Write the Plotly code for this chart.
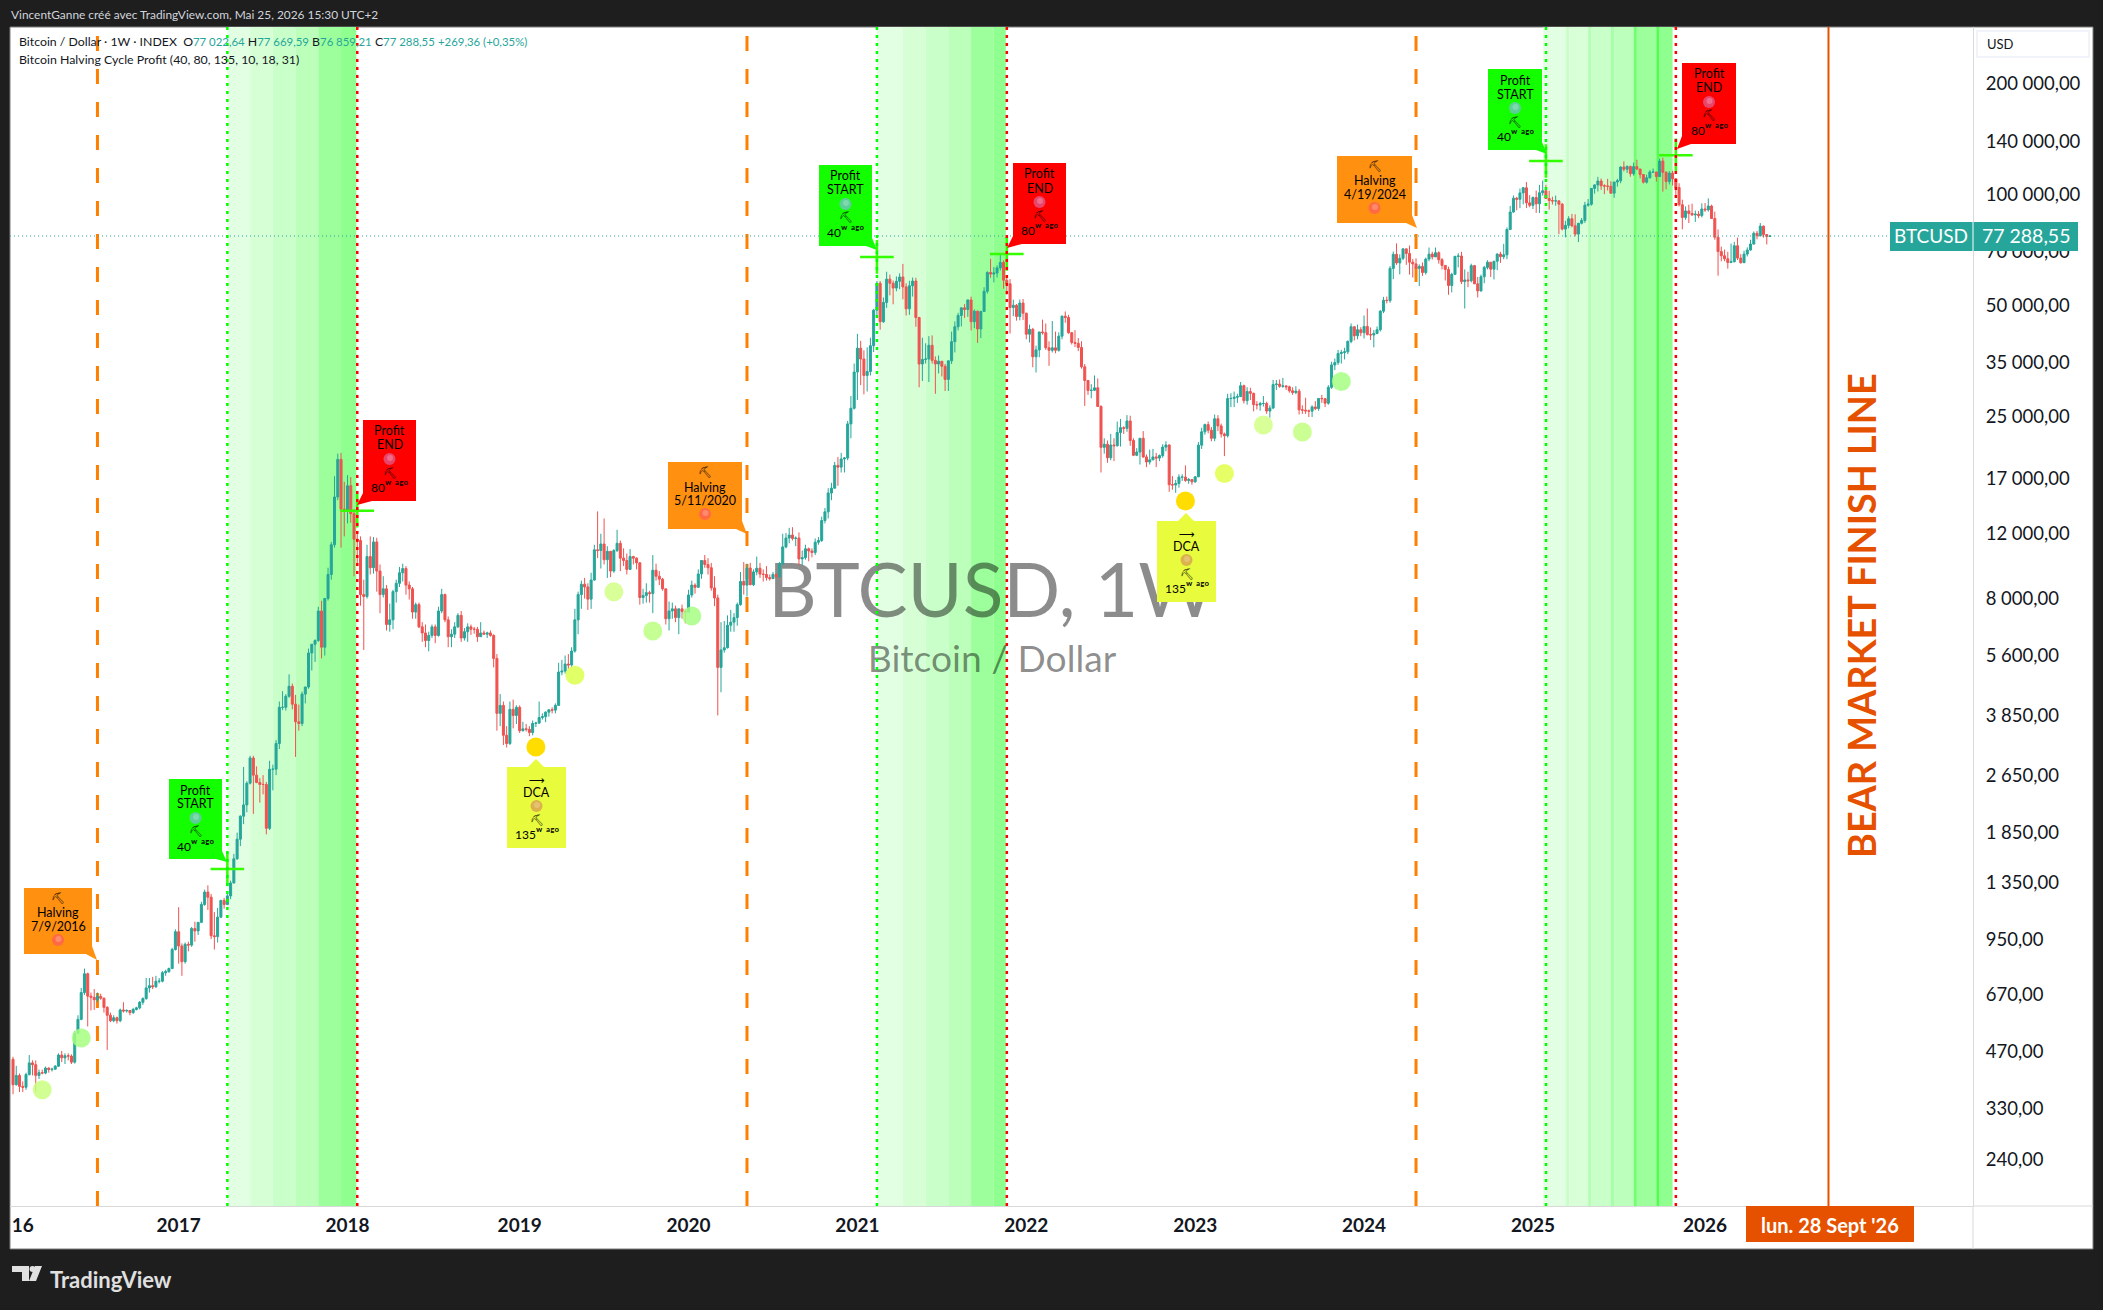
import math
import pandas as pd
import plotly.graph_objects as go

# ---------- weekly candles (close / high / low per calendar year) ----------
c2016 = [382,405,378,376,407,438,433,405,412,411,424,420,421,429,460,452,458,457,440,527,575,680,765,665,660,650,664,656,620,590,570,581,570,610,606,608,600,612,618,640,655,700,710,705,730,730,770,775,790,890,995]
h2016 = [455,430,410,390,412,460,445,445,420,420,428,426,425,432,465,472,465,465,462,535,590,700,790,770,680,695,680,675,660,625,600,590,585,615,640,612,610,618,622,645,660,745,745,750,755,745,778,785,795,900,1010]
l2016 = [360,380,365,365,370,405,405,365,396,408,408,412,415,420,427,440,435,445,435,436,525,572,670,550,608,610,640,650,600,475,565,565,560,565,600,600,590,595,608,612,630,650,680,695,700,720,725,755,770,790,885]

c2017 = [910,825,920,915,1015,1000,1055,1180,1275,1235,970,965,1090,1210,1180,1245,1350,1570,1775,2050,2200,2520,2950,2650,2530,2500,2500,1900,2750,2750,3230,4050,4050,4340,4620,4130,3700,3660,4400,4600,5690,6010,6150,7400,5900,8000,9300,11200,15100,19100,14000,13800]
h2017 = [1160,925,930,935,1025,1060,1055,1200,1295,1330,1260,1125,1155,1215,1230,1275,1370,1620,1850,2060,2790,2550,2990,2990,2800,2600,2650,2540,2900,2830,3300,4200,4480,4400,4980,4700,4380,4120,4470,4600,5850,6000,6200,7600,7890,8000,9700,11400,17200,19800,19900,16600]
l2017 = [815,755,815,880,905,935,975,1050,1170,1140,950,890,930,1085,1150,1175,1220,1345,1560,1700,1950,2100,2500,2080,2520,2230,2350,1830,1880,2410,2650,3120,3980,3970,4300,4000,2970,3500,3600,4150,4550,5100,5380,6100,5500,5600,7900,9000,11000,14800,11000,11800]

c2018 = [16200,13600,11600,11500,8200,8100,10400,9700,11400,9500,8200,8500,6800,7000,8350,8800,9400,9650,8700,8500,7350,7700,6700,6450,6150,6350,6700,6350,7400,8200,7000,6300,6400,6700,7200,6250,6500,6700,6600,6600,6300,6450,6400,6450,6350,5500,3900,4100,3400,3230,4000,3850,4050]
h2018 = [17300,17100,14000,12000,11800,9000,11200,11800,11750,11700,9900,9200,8700,7750,8450,9000,9750,9950,9800,8900,8600,7800,7800,6900,6800,6500,6800,6800,7600,8500,8250,7150,6600,6900,7300,7400,6650,6850,6800,6700,6700,6900,6550,6500,6550,6400,5650,4400,4200,3600,4200,4250,4100]
l2018 = [12800,12850,9200,9900,7650,5800,8000,9300,9350,8350,7300,8050,6550,6500,6600,7800,8600,8900,8200,7950,7050,7050,6650,6100,5900,5750,6250,6050,6300,7300,6900,5900,5900,6250,6650,6100,6150,6100,6370,6420,6100,6300,6400,6250,6300,5200,3500,3600,3200,3150,3200,3550,3650]

c2019 = [3500,3540,3530,3460,3660,3670,3800,3820,3930,3990,3980,4100,5050,5080,5310,5280,5760,7000,8200,8750,8600,7970,8980,10850,10800,11250,10200,10750,9500,10800,11300,10300,10150,9600,10400,10300,10000,8050,8150,8300,8250,9550,9200,9030,8500,7050,7400,7500,7100,7500,7380,7350]
h2019 = [4100,3700,3650,3600,3730,3700,4200,3900,3950,3990,4050,4150,5350,5450,5600,5650,5900,7500,8350,8950,9100,8800,9400,11200,13800,12000,13200,11100,10600,10900,12300,11500,10950,10600,10900,10450,10350,10050,8500,8800,8400,10500,9950,9500,9100,8500,7850,7800,7650,7500,7700,7500]
l2019 = [3450,3480,3480,3380,3400,3580,3650,3750,3690,3820,3900,3900,4090,4950,5000,5150,5200,5700,6400,7500,8000,7450,7500,8950,10300,9650,9900,9100,9150,9400,10700,9500,9800,9300,9600,9900,9600,7700,7750,7800,7800,7300,8950,8700,8400,6800,6550,7050,6900,6400,7050,6850]

c2020 = [8180,8700,8580,9330,10150,9900,9700,8550,8030,5200,5800,5880,6770,6900,7100,7700,8900,8700,9680,8720,9450,9670,9320,9300,9120,9060,9300,9170,9930,11050,11680,11900,11650,11680,10250,10330,10920,10770,10670,11380,11500,13030,13760,15480,15960,18400,18200,19150,19270,23850,26300,33000]
h2020 = [8450,8950,8800,9600,10170,10500,10300,10000,9200,8200,6900,6950,7200,7450,7300,7800,9450,10050,9950,10000,9600,10400,10000,9600,9800,9300,9450,9350,10050,12000,12050,12450,12500,11800,12100,10800,11200,11000,10950,11650,11750,13350,14100,15950,16500,18800,19400,19900,19400,24300,28400,34800]
l2020 = [7700,8050,8250,8550,9050,9700,9300,8400,7630,3850,4450,5700,5850,6500,6500,6750,7650,8200,8100,8800,8650,9250,9100,8900,8950,8950,9050,9050,9100,9900,10950,11300,11500,11100,9850,9850,10200,10100,10350,10500,11200,11400,12800,13200,14800,15900,16200,17600,17600,19000,21800,26100]

c2021 = [38300,35800,32300,33100,38900,48600,57500,45200,51000,59000,57500,55800,58200,59800,56200,49000,56600,58300,46400,34700,35700,35800,39000,35500,34700,35300,34200,31500,35400,39900,43800,47000,49300,48800,51800,45200,48300,43200,48200,54700,61500,60900,61300,63300,65500,58600,57300,49400,50100,46700,50800,47700]
h2021 = [41900,40100,37800,38500,40900,49000,58300,58300,52600,61800,60700,58500,60000,61200,64900,57500,58400,59600,59500,46600,40900,39500,41300,41500,36400,36600,35200,34700,35400,42500,45300,47800,49000,50500,51900,52900,48800,48400,48400,56100,62000,67000,63700,64300,69000,66300,59500,59000,51900,50500,51900,52100]
l2021 = [27700,30400,28700,29200,32300,37400,47000,43000,44900,49300,53300,50400,54700,55400,52000,47000,47200,52900,43800,30000,31200,34800,31000,34800,28800,32700,32100,29300,29300,34700,37300,42800,43900,46300,46600,42800,43400,39600,40800,48100,53900,59500,57800,59600,62300,55600,53500,42000,46800,45500,45600,45700]

c2022 = [41800,43100,36300,37900,42400,42200,38400,37800,38400,37800,41300,46800,46400,42200,39700,39500,38500,34100,31300,29400,29450,29900,26600,20600,21000,19300,20900,20800,22600,23300,23200,24300,21500,19600,20000,21800,19400,18800,19050,19400,19260,19570,20630,20900,16300,16280,16430,17100,17100,16740,16840,16600]
h2022 = [47500,44400,43500,38900,41800,45800,44700,40000,45400,42500,42300,47000,48200,47200,42400,42900,40800,40000,34700,31400,30600,32300,31700,26800,21800,21500,22400,21800,24200,24600,23500,25200,25100,21800,20500,21800,22800,19700,20300,20400,19900,19700,21000,21400,21000,17200,16800,17400,17400,18400,17000,16900]
l2022 = [40500,39700,34000,32900,36200,41700,37900,34300,37300,37100,37500,40500,44900,41900,39200,38600,37600,33700,26700,28600,28000,29300,26600,17600,19800,18700,19000,18900,20700,20700,22400,22700,20800,19500,19500,18500,19300,18200,18500,19000,18200,18900,19300,20100,15600,15800,15500,16000,16700,16600,16400,16300]

c2023 = [17130,20880,22700,23750,22930,21800,24630,23560,22400,22150,27950,27980,28180,28300,30290,27590,29200,28880,26900,26850,27100,27100,25850,26340,30500,30600,30170,30250,30080,29350,29030,29280,26050,26000,25870,25830,26530,26250,27970,27930,27150,29990,34500,35000,37050,37300,37450,39970,43800,41400,43000,42200]
h2023 = [17200,21300,23300,23900,24200,23400,25300,25200,23900,22600,28800,28900,29200,28800,31000,30500,30000,29900,29000,27500,27400,28400,27400,26800,31400,31400,31500,31800,30400,30300,30000,30200,29700,26800,28100,26100,26800,27500,28000,28600,28000,30400,35200,35900,37900,37900,38400,40200,44700,43500,44400,43700]
l2023 = [16500,17100,20400,22300,22500,21400,21400,22800,21900,19500,21900,26500,26500,27200,28200,27100,26900,27700,25800,26100,25900,26600,25400,24800,26200,29500,29900,29900,29500,29000,28600,28700,25300,25400,25400,24900,24900,26000,25900,27200,26500,26900,29700,33400,34500,34800,35700,36900,39500,40200,40500,41300]

c2024 = [43900,41700,41600,42000,43000,48300,51700,51600,63100,68900,65300,67200,71300,69300,65600,64900,63100,63900,61500,66900,69000,67800,69600,66600,64300,62700,56700,60800,68000,68200,58100,58700,58400,64200,57300,54800,59900,63500,65600,62800,66000,69000,67900,68700,80500,89800,97900,97200,101200,104500,95100,93600,98300]
h2024 = [47000,49100,43600,42900,43900,48600,52800,52900,64000,70100,73800,68900,71500,71300,72800,66900,67200,64700,65500,67500,71900,70000,71900,70200,67300,63300,63800,61400,68300,69400,70000,62700,61800,65000,64500,59800,60700,64100,66400,65600,64400,69400,70000,73600,81500,93300,99600,98700,104000,105000,108300,99800,99000]
l2024 = [40700,41500,40300,38500,41800,42500,47700,50700,50900,59000,64500,60800,66400,64500,60700,59600,62800,56500,60200,60700,66000,66700,68500,65000,62700,58500,53500,54300,60700,63500,57200,49100,56100,57800,57200,52600,54600,57500,62700,59800,58900,62400,65300,66800,66800,80200,89400,90800,92000,94200,92100,92500,91500]

c2025 = [94500,101300,102600,97700,96500,96200,96300,94300,80700,82600,86100,82400,78200,83700,85200,93700,94300,104100,106400,109000,105800,105600,105500,101000,108300,109200,119000,117300,119400,114100,119300,117500,113500,108200,111200,115300,115300,112100,123500,115100,108700,114500,110500,104700,94000,86800,90400,89000,88200,88600,87800,91500]
h2025 = [102700,106400,109300,106500,102500,98800,99500,96500,95000,85000,87500,88700,88500,83500,86500,95700,97400,104300,106700,111900,110700,106800,110500,108900,108500,110500,119500,123200,120200,120000,122300,124500,117600,113500,113400,116700,117900,115500,125500,126200,115900,116000,116300,111000,107500,97000,93000,94000,94600,90600,90400,94800]
l2025 = [89300,89200,99500,97800,91200,94100,93400,78200,80000,76600,81100,81600,77100,74400,83100,83900,92800,93400,100700,102100,103100,100400,102700,102600,98200,105200,107500,115700,114700,112000,112700,116800,110800,107300,107300,110700,114700,108600,111700,102000,103500,106700,106000,98900,93000,80600,85500,83800,87600,84400,86400,86800]

c2026 = [91000,93200,86200,76700,70100,68300,67000,65500,65800,72700,67300,65400,69000,70800,73500,78600,77400,82200,78000,77019.28,77288.55]
h2026 = [95000,97800,94000,90000,80500,72300,71000,70000,73700,74500,76500,69000,70500,72000,75500,79500,79800,83800,82500,78200,77669.59]
l2026 = [89900,90000,86000,75500,60300,66000,66000,63000,65200,65500,66500,65000,65300,68000,70500,73200,75700,77000,76500,73300,76859.21]

first_open = 448
last_open = 77022.64
first_bar = "2016-01-11"

close = c2016 + c2017 + c2018 + c2019 + c2020 + c2021 + c2022 + c2023 + c2024 + c2025 + c2026
high = h2016 + h2017 + h2018 + h2019 + h2020 + h2021 + h2022 + h2023 + h2024 + h2025 + h2026
low = l2016 + l2017 + l2018 + l2019 + l2020 + l2021 + l2022 + l2023 + l2024 + l2025 + l2026
if not (len(close) == len(high) == len(low) == 542):
    raise SystemExit(str([(len(a), len(b), len(d)) for a, b, d in [(c2016,h2016,l2016),(c2017,h2017,l2017),(c2018,h2018,l2018),(c2019,h2019,l2019),(c2020,h2020,l2020),(c2021,h2021,l2021),(c2022,h2022,l2022),(c2023,h2023,l2023),(c2024,h2024,l2024),(c2025,h2025,l2025),(c2026,h2026,l2026)]]))
opens = [first_open] + close[:-1]
opens[-1] = last_open
dates = list(pd.date_range(first_bar, periods=len(close), freq="7D"))

# ---------- indicator events (bar number, price) ----------
halving_bars = [26, 226, 432]
start_bars = [66, 266, 472]
end_bars = [106, 306, 512]
cross_bars = [66, 106, 266, 306, 472, 512]
cross_prices = [1473, 13860, 67800, 69100, 123600, 128100]
dot_bars = [9, 21, 173, 185, 197, 209, 373, 385, 397, 409]
dot_prices = [370, 512, 4950, 8340, 6530, 7170, 17480, 23700, 22680, 31090]
dot_colors = ["#c9ff80", "#a6ff80", "#dcff4c", "#d2ff86", "#bcff80", "#a6ff84", "#e2ff4c", "#d2ff86", "#c2ff80", "#a6ff84"]
dca_bars = [161, 361]
dca_prices = [3160, 14730]
finish_date = "2026-09-28"

band_steps = [
    ([66, 73, 80, 87, 94, 101, 105.7], ["#e3ffe3", "#d6ffd6", "#c9ffc9", "#bbffbb", "#9cff9c", "#8fff8f"]),
    ([266, 274, 281, 288, 295, 302, 305.7], ["#e3ffe3", "#d6ffd6", "#c9ffc9", "#bbffbb", "#9cff9c", "#8fff8f"]),
    ([471.2, 478.2, 479.2, 485, 486, 492, 493, 499, 500, 506, 507, 511], ["#e3ffe3", "#c8ffc8", "#d8ffd8", "#b2ffb2", "#c9ffc9", "#a6ffa6", "#bcffbc", "#70ff70", "#9cff9c", "#50ff50", "#8fff8f"]),
]

year_ticks = ["2016-02-01", "2017-01-02", "2018-01-01", "2019-01-07", "2020-01-06", "2021-01-04", "2022-01-03", "2023-01-02", "2024-01-01", "2024-12-30", "2026-01-05"]
year_labels = ["16", "2017", "2018", "2019", "2020", "2021", "2022", "2023", "2024", "2025", "2026"]
price_ticks = [200000, 140000, 100000, 70000, 50000, 35000, 25000, 17000, 12000, 8000, 5600, 3850, 2650, 1850, 1350, 950, 670, 470, 330, 240]
price_labels = ["200\u202f000,00", "140\u202f000,00", "100\u202f000,00", "70\u202f000,00", "50\u202f000,00", "35\u202f000,00", "25\u202f000,00", "17\u202f000,00", "12\u202f000,00", "8\u202f000,00", "5\u202f600,00", "3\u202f850,00", "2\u202f650,00", "1\u202f850,00", "1\u202f350,00", "950,00", "670,00", "470,00", "330,00", "240,00"]

PICK = "\u26cf"
callouts = [
    dict(color="#ff9010", ball="#ff6a45", kind="h", text="7/9/2016", box=(24, 888, 92, 954), tail=[(92, 946), (97, 960), (86, 954)]),
    dict(color="#13ff00", ball="#5ccf98", kind="p", title="START", ago="40", box=(169, 779, 222, 859), tail=[(222, 851), (227, 862), (216, 859)]),
    dict(color="#ff0000", ball="#e8456a", kind="p", title="END", ago="80", box=(363, 420, 416, 501), tail=[(363, 493), (357, 505), (372, 501)]),
    dict(color="#e9fb3d", ball="#dcb24c", kind="d", ago="135", box=(507, 767, 566, 848), tail=[(536, 759), (528, 767), (544, 767)]),
    dict(color="#ff9010", ball="#ff6a45", kind="h", text="5/11/2020", box=(668, 462, 742, 529), tail=[(742, 521), (747, 534), (736, 529)]),
    dict(color="#13ff00", ball="#5ccf98", kind="p", title="START", ago="40", box=(819, 165, 872, 246), tail=[(872, 238), (877, 250), (866, 246)]),
    dict(color="#ff0000", ball="#e8456a", kind="p", title="END", ago="80", box=(1013, 163, 1066, 244), tail=[(1013, 236), (1007, 248), (1022, 244)]),
    dict(color="#e9fb3d", ball="#dcb24c", kind="d", ago="135", box=(1157, 521, 1216, 602), tail=[(1186, 513), (1178, 521), (1194, 521)]),
    dict(color="#ff9010", ball="#ff6a45", kind="h", text="4/19/2024", box=(1337, 156, 1412, 223), tail=[(1412, 215), (1417, 228), (1406, 223)]),
    dict(color="#13ff00", ball="#5ccf98", kind="p", title="START", ago="40", box=(1488, 69, 1542, 150), tail=[(1542, 142), (1547, 154), (1536, 150)]),
    dict(color="#ff0000", ball="#e8456a", kind="p", title="END", ago="80", box=(1682, 63, 1736, 144), tail=[(1682, 136), (1677, 149), (1691, 144)]),
]

# ---------- layout frame (pixels in the 2103x1310 page) ----------
PL, PR, PT, PB = 10, 1973, 27, 1206
W, H = 2103, 1310
FONT = "Lato, 'Noto Sans', sans-serif"
SYM = "'DejaVu Sans', sans-serif"
TEAL, RED, ORANGE = "#26a69a", "#ef5350", "#e65100"


def fx(px):
    return (px - PL) / (PR - PL)


def fy(py):
    return (PB - py) / (PB - PT)


def bar_date(i):
    return pd.Timestamp(first_bar) + pd.Timedelta(days=7 * i)


shapes, notes = [], []


def note(px, py, text, size=13, color="#000000", anchor="center", family=FONT, **kw):
    notes.append(dict(x=fx(px), y=fy(py), xref="paper", yref="paper", text=text, showarrow=False,
                      xanchor=anchor, yanchor="middle", font=dict(size=size, color=color, family=family),
                      borderpad=0, **kw))


def rect(x0, y0, x1, y1, fill, line="rgba(0,0,0,0)", lw=0, layer="above"):
    shapes.append(dict(type="rect", xref="paper", yref="paper", x0=fx(x0), x1=fx(x1), y0=fy(y0), y1=fy(y1),
                       fillcolor=fill, line=dict(color=line, width=lw), layer=layer))


def disc(cx, cy, r, fill):
    shapes.append(dict(type="circle", xref="paper", yref="paper", x0=fx(cx - r), x1=fx(cx + r), y0=fy(cy + r), y1=fy(cy - r),
                       fillcolor=fill, line=dict(width=0), layer="above"))


# chart canvas
rect(10, 27, 2093, 1249, "#ffffff", "#7c7c7c", 1, "below")

# green profit bands
for edges, cols in band_steps:
    for i, col in enumerate(cols):
        shapes.append(dict(type="rect", xref="x", yref="paper", x0=bar_date(edges[i]), x1=bar_date(edges[i + 1]),
                           y0=0, y1=1, fillcolor=col, line=dict(width=0), layer="below"))

# watermark under the candles
shapes.append(dict(type="rect", xref="paper", yref="paper", x0=fx(700), x1=fx(1284), y0=fy(619), y1=fy(555),
                   fillcolor="rgba(0,0,0,0)", line=dict(width=0), layer="below",
                   label=dict(text="BTCUSD, 1W", textposition="middle center",
                              font=dict(size=75, color="rgba(0,0,0,0.45)", family=FONT))))
shapes.append(dict(type="rect", xref="paper", yref="paper", x0=fx(800), x1=fx(1184), y0=fy(677), y1=fy(637),
                   fillcolor="rgba(0,0,0,0)", line=dict(width=0), layer="below",
                   label=dict(text="Bitcoin / Dollar", textposition="middle center",
                              font=dict(size=37.2, color="rgba(0,0,0,0.45)", family=FONT))))

# cycle lines
for b in halving_bars:
    shapes.append(dict(type="line", xref="x", yref="paper", x0=dates[b], x1=dates[b], y0=0, y1=1, layer="below",
                       line=dict(color="#ff7f00", width=3, dash="15px,18px")))
for b in start_bars:
    shapes.append(dict(type="line", xref="x", yref="paper", x0=dates[b], x1=dates[b], y0=0, y1=1, layer="above",
                       line=dict(color="#00ff00", width=2.5, dash="3px,5px")))
for b in end_bars:
    shapes.append(dict(type="line", xref="x", yref="paper", x0=dates[b], x1=dates[b], y0=0, y1=1, layer="above",
                       line=dict(color="#ff0000", width=2.5, dash="3px,5px")))
shapes.append(dict(type="line", xref="x", yref="paper", x0=finish_date, x1=finish_date, y0=0, y1=1, layer="above",
                   line=dict(color=ORANGE, width=2)))

# axis separators
shapes.append(dict(type="line", xref="paper", yref="paper", x0=fx(1973), x1=fx(1973), y0=fy(1206), y1=fy(1249),
                   line=dict(color="#d9d9d9", width=1), layer="below"))
shapes.append(dict(type="line", xref="paper", yref="paper", x0=fx(1973), x1=fx(2093), y0=fy(1206), y1=fy(1206),
                   line=dict(color="#d9d9d9", width=1), layer="below"))

# callouts
SUP = "<span style='font-size:15px'>\u02b7 \u1d43\u1d4d\u1d52</span>"
for c in callouts:
    x0, y0, x1, y1 = c["box"]
    rect(x0, y0, x1, y1, c["color"])
    path = "M " + " L ".join(f"{fx(a):.5f} {fy(b):.5f}" for a, b in c["tail"]) + " Z"
    shapes.append(dict(type="path", xref="paper", yref="paper", path=path, fillcolor=c["color"], line=dict(width=0), layer="above"))
    mid = (x0 + x1) / 2
    ball_dy = 52 if c["kind"] == "h" else 39
    disc(mid, y0 + ball_dy, 6, c["ball"])
    disc(mid + 0.5, y0 + ball_dy - 1, 3, "rgba(255,255,255,0.22)")
    if c["kind"] == "h":
        note(mid, y0 + 10, PICK, 11, family=SYM)
        note(mid, y0 + 25, "Halving", 12.5)
        note(mid, y0 + 38.6, c["text"], 12.5)
    else:
        if c["kind"] == "p":
            note(mid, y0 + 11, "Profit", 12.5)
            note(mid, y0 + 25, c["title"], 12.5)
        else:
            note(mid, y0 + 13, "\u27f6", 11, family=SYM)
            note(mid, y0 + 25, "DCA", 12.5)
        note(mid, y0 + 53, PICK, 11, family=SYM)
        note(mid, y0 + 66, c["ago"] + SUP, 12, family=FONT + ", 'DejaVu Sans'")

# header, legend, footer
note(10, 15, "VincentGanne créé avec TradingView.com, Mai 25, 2026 15:30 UTC+2", 11.9, "#d1d4dc", "left")
V = "<span style='color:#26a69a;font-size:11.4px'>%s</span>"
note(18, 42, "Bitcoin / Dollar · 1W · INDEX\u00a0\u00a0O" + V % "77\u202f022,64" + "\u00a0H" + V % "77\u202f669,59" + "\u00a0B" + V % "76\u202f859,21" + "\u00a0C" + V % "77\u202f288,55" + "\u00a0" + V % "+269,36 (+0,35%)", 12.3, "#131722", "left")
note(18, 59, "Bitcoin Halving Cycle Profit (40, 80, 135, 10, 18, 31)", 12.35, "#131722", "left")
note(49, 1279, "<b>TradingView</b>", 22, "#e0e0e0", "left")
shapes.append(dict(type="path", xref="paper", yref="paper", layer="above", fillcolor="#e0e0e0", line=dict(width=0),
                   path="M " + " L ".join(f"{fx(a):.5f} {fy(b):.5f}" for a, b in [(12, 1266), (29, 1266), (29, 1281), (22, 1281), (22, 1272), (12, 1272)]) + " Z"))
shapes.append(dict(type="path", xref="paper", yref="paper", layer="above", fillcolor="#e0e0e0", line=dict(width=0),
                   path="M " + " L ".join(f"{fx(a):.5f} {fy(b):.5f}" for a, b in [(35, 1266), (42, 1266), (36, 1281), (29, 1281)]) + " Z"))
shapes.append(dict(type="circle", xref="paper", yref="paper", layer="above", fillcolor="#e0e0e0", line=dict(width=0),
                   x0=fx(29.5), x1=fx(35.5), y0=fy(1266), y1=fy(1272)))

# side-axis furniture
rect(1977, 31, 2089, 57, "#ffffff", "#f0f3fa", 2)
note(1986, 44, "USD", 13, "#131722", "left")
note(1861, 616, "<b>BEAR MARKET FINISH LINE</b>", 37.8, ORANGE, textangle=-90)
rect(1746, 1206, 1914, 1242, ORANGE)
note(1830, 1225, "<b>lun. 28 Sept '26</b>", 20, "#ffffff")
rect(1890, 222, 2078, 251, TEAL)
shapes.append(dict(type="line", xref="paper", yref="paper", x0=fx(1973), x1=fx(1973), y0=fy(222), y1=fy(251),
                   line=dict(color="#ffffff", width=1), layer="above"))
note(1931, 236, "BTCUSD", 19, "#ffffff")
note(2026, 235, "77\u202f288,55", 19.5, "#ffffff")

x_range = ["2016-01-04 12:00", "2027-08-05 12:00"]
y_range = [math.log10(178.9), math.log10(285700)]

fig = go.Figure()
fig.add_trace(go.Scatter(x=x_range, y=[close[-1], close[-1]], mode="lines", hoverinfo="skip",
                         line=dict(color=TEAL, width=1, dash="1px,3px")))
fig.add_trace(go.Candlestick(x=dates, open=opens, high=high, low=low, close=close, whiskerwidth=0,
                             increasing=dict(line=dict(color=TEAL, width=1), fillcolor=TEAL),
                             decreasing=dict(line=dict(color=RED, width=1), fillcolor=RED)))
fig.add_trace(go.Scatter(x=[dates[b] for b in dot_bars], y=dot_prices, mode="markers",
                         marker=dict(size=19, color=dot_colors, opacity=0.85)))
fig.add_trace(go.Scatter(x=[dates[b] for b in dca_bars], y=dca_prices, mode="markers",
                         marker=dict(size=19, color="#ffdd00")))
fig.add_trace(go.Scatter(x=[dates[b] for b in cross_bars], y=cross_prices, mode="markers",
                         marker=dict(size=24, symbol="cross-thin", color="#33ff00", line=dict(color="#33ff00", width=2.5))))

fig.update_layout(
    width=W, height=H, showlegend=False, boxgap=0.38, boxgroupgap=0,
    margin=dict(l=PL, r=W - PR, t=PT, b=H - PB, pad=0),
    paper_bgcolor="#1e1e1e", plot_bgcolor="rgba(0,0,0,0)",
    font=dict(family=FONT, color="#131722"),
    shapes=shapes, annotations=notes,
    xaxis=dict(type="date", range=x_range, rangeslider=dict(visible=False), showgrid=False, zeroline=False,
               showline=True, linecolor="#d9d9d9", linewidth=1, ticks="", tickmode="array", tickvals=year_ticks,
               ticktext=year_labels, tickangle=0, ticklabelstandoff=2,
               tickfont=dict(size=19, color="#131722", family=FONT, weight=700)),
    yaxis=dict(type="log", side="right", range=y_range, showgrid=False, zeroline=False, showline=True,
               linecolor="#d9d9d9", linewidth=1, ticks="", tickmode="array", tickvals=price_ticks,
               ticktext=price_labels, ticklabelstandoff=8, tickfont=dict(size=18.5, color="#131722", family=FONT)),
)
fig.write_html("out.html", config=dict(displayModeBar=False),
               post_script="document.body.style.margin='0';document.body.style.background='#1e1e1e';")
